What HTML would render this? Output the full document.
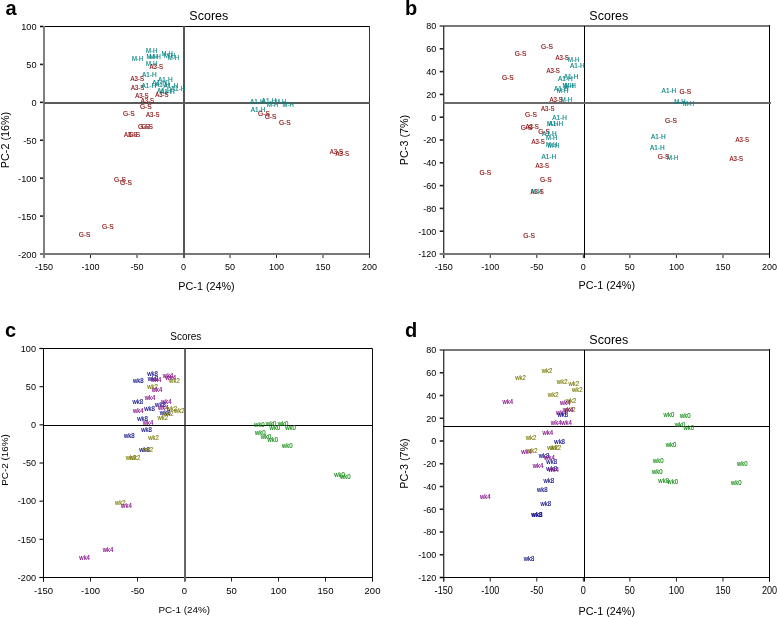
<!DOCTYPE html>
<html><head><meta charset="utf-8"><title>Scores</title>
<style>
html,body{margin:0;padding:0;background:#fff;width:777px;height:617px;overflow:hidden;}
svg{display:block;font-family:"Liberation Sans", sans-serif;will-change:transform;}
</style></head><body>
<svg width="777" height="617" viewBox="0 0 777 617">
<rect x="0" y="0" width="777" height="617" fill="#fff"/>
<line x1="40" y1="254.0" x2="44" y2="254.0" stroke="#222" stroke-width="1.6"/>
<text transform="matrix(1 0 0 1.08 36.50 257.70)" font-size="9.2" text-anchor="end" fill="#000" font-weight="normal">-200</text>
<line x1="40" y1="216.08333333333334" x2="44" y2="216.08333333333334" stroke="#222" stroke-width="1.6"/>
<text transform="matrix(1 0 0 1.08 36.50 219.78)" font-size="9.2" text-anchor="end" fill="#000" font-weight="normal">-150</text>
<line x1="40" y1="178.16666666666666" x2="44" y2="178.16666666666666" stroke="#222" stroke-width="1.6"/>
<text transform="matrix(1 0 0 1.08 36.50 181.87)" font-size="9.2" text-anchor="end" fill="#000" font-weight="normal">-100</text>
<line x1="40" y1="140.25" x2="44" y2="140.25" stroke="#222" stroke-width="1.6"/>
<text transform="matrix(1 0 0 1.08 36.50 143.95)" font-size="9.2" text-anchor="end" fill="#000" font-weight="normal">-50</text>
<line x1="40" y1="102.33333333333333" x2="44" y2="102.33333333333333" stroke="#222" stroke-width="1.6"/>
<text transform="matrix(1 0 0 1.08 36.50 106.03)" font-size="9.2" text-anchor="end" fill="#000" font-weight="normal">0</text>
<line x1="40" y1="64.41666666666666" x2="44" y2="64.41666666666666" stroke="#222" stroke-width="1.6"/>
<text transform="matrix(1 0 0 1.08 36.50 68.12)" font-size="9.2" text-anchor="end" fill="#000" font-weight="normal">50</text>
<line x1="40" y1="26.5" x2="44" y2="26.5" stroke="#222" stroke-width="1.6"/>
<text transform="matrix(1 0 0 1.08 36.50 30.20)" font-size="9.2" text-anchor="end" fill="#000" font-weight="normal">100</text>
<line x1="44.0" y1="254" x2="44.0" y2="258" stroke="#222" stroke-width="1"/>
<text x="44.00" y="269.80" font-size="9" text-anchor="middle" fill="#000" font-weight="normal">-150</text>
<line x1="90.5" y1="254" x2="90.5" y2="258" stroke="#222" stroke-width="1"/>
<text x="90.50" y="269.80" font-size="9" text-anchor="middle" fill="#000" font-weight="normal">-100</text>
<line x1="137.0" y1="254" x2="137.0" y2="258" stroke="#222" stroke-width="1"/>
<text x="137.00" y="269.80" font-size="9" text-anchor="middle" fill="#000" font-weight="normal">-50</text>
<line x1="183.5" y1="254" x2="183.5" y2="258" stroke="#222" stroke-width="1"/>
<text x="183.50" y="269.80" font-size="9" text-anchor="middle" fill="#000" font-weight="normal">0</text>
<line x1="230.0" y1="254" x2="230.0" y2="258" stroke="#222" stroke-width="1"/>
<text x="230.00" y="269.80" font-size="9" text-anchor="middle" fill="#000" font-weight="normal">50</text>
<line x1="276.5" y1="254" x2="276.5" y2="258" stroke="#222" stroke-width="1"/>
<text x="276.50" y="269.80" font-size="9" text-anchor="middle" fill="#000" font-weight="normal">100</text>
<line x1="323.0" y1="254" x2="323.0" y2="258" stroke="#222" stroke-width="1"/>
<text x="323.00" y="269.80" font-size="9" text-anchor="middle" fill="#000" font-weight="normal">150</text>
<line x1="369.5" y1="254" x2="369.5" y2="258" stroke="#222" stroke-width="1"/>
<text x="369.50" y="269.80" font-size="9" text-anchor="middle" fill="#000" font-weight="normal">200</text>
<line x1="40" y1="26.5" x2="369.5" y2="26.5" stroke="#000" stroke-width="1"/>
<line x1="44" y1="26" x2="44" y2="258" stroke="#808080" stroke-width="2"/>
<line x1="40" y1="254" x2="370" y2="254" stroke="#777" stroke-width="2"/>
<line x1="369.5" y1="26" x2="369.5" y2="258" stroke="#333" stroke-width="1"/>
<line x1="184" y1="26" x2="184" y2="258" stroke="#555" stroke-width="2"/>
<line x1="44" y1="103" x2="370" y2="103" stroke="#5a5a5a" stroke-width="2"/>
<text transform="matrix(0.88 0 0 1 137.75 60.93)" font-size="6.8" fill="#088585" stroke="#088585" stroke-width="0.15" text-anchor="middle">M-H</text>
<text transform="matrix(0.88 0 0 1 151.65 53.43)" font-size="6.8" fill="#088585" stroke="#088585" stroke-width="0.15" text-anchor="middle">M-H</text>
<text transform="matrix(0.88 0 0 1 152.25 58.63)" font-size="6.8" fill="#088585" stroke="#088585" stroke-width="0.15" text-anchor="middle">M-H</text>
<text transform="matrix(0.88 0 0 1 155.15 59.13)" font-size="6.8" fill="#088585" stroke="#088585" stroke-width="0.15" text-anchor="middle">M-H</text>
<text transform="matrix(0.88 0 0 1 167.15 56.03)" font-size="6.8" fill="#088585" stroke="#088585" stroke-width="0.15" text-anchor="middle">M-H</text>
<text transform="matrix(0.88 0 0 1 169.65 57.63)" font-size="6.8" fill="#088585" stroke="#088585" stroke-width="0.15" text-anchor="middle">M-H</text>
<text transform="matrix(0.88 0 0 1 173.35 60.13)" font-size="6.8" fill="#088585" stroke="#088585" stroke-width="0.15" text-anchor="middle">M-H</text>
<text transform="matrix(0.88 0 0 1 151.65 66.13)" font-size="6.8" fill="#088585" stroke="#088585" stroke-width="0.15" text-anchor="middle">M-H</text>
<text transform="matrix(0.88 0 0 1 156.25 69.23)" font-size="6.8" fill="#840808" stroke="#840808" stroke-width="0.15" text-anchor="middle">A3-S</text>
<text transform="matrix(0.947 0 0 1 149.33 77.33)" font-size="6.8" fill="#088585" stroke="#088585" stroke-width="0.15" text-anchor="middle">A1-H</text>
<text transform="matrix(0.88 0 0 1 137.25 81.23)" font-size="6.8" fill="#840808" stroke="#840808" stroke-width="0.15" text-anchor="middle">A3-S</text>
<text transform="matrix(0.947 0 0 1 165.23 81.63)" font-size="6.8" fill="#088585" stroke="#088585" stroke-width="0.15" text-anchor="middle">A1-H</text>
<text transform="matrix(0.947 0 0 1 159.53 84.83)" font-size="6.8" fill="#088585" stroke="#088585" stroke-width="0.15" text-anchor="middle">A1-H</text>
<text transform="matrix(0.947 0 0 1 162.33 87.13)" font-size="6.8" fill="#088585" stroke="#088585" stroke-width="0.15" text-anchor="middle">A1-H</text>
<text transform="matrix(0.88 0 0 1 137.65 90.03)" font-size="6.8" fill="#840808" stroke="#840808" stroke-width="0.15" text-anchor="middle">A3-S</text>
<text transform="matrix(0.947 0 0 1 148.73 88.43)" font-size="6.8" fill="#088585" stroke="#088585" stroke-width="0.15" text-anchor="middle">A1-H</text>
<text transform="matrix(0.947 0 0 1 170.83 87.93)" font-size="6.8" fill="#088585" stroke="#088585" stroke-width="0.15" text-anchor="middle">A1-H</text>
<text transform="matrix(0.947 0 0 1 178.13 90.53)" font-size="6.8" fill="#088585" stroke="#088585" stroke-width="0.15" text-anchor="middle">A1-H</text>
<text transform="matrix(0.947 0 0 1 164.23 92.63)" font-size="6.8" fill="#088585" stroke="#088585" stroke-width="0.15" text-anchor="middle">A1-H</text>
<text transform="matrix(0.947 0 0 1 167.33 93.63)" font-size="6.8" fill="#088585" stroke="#088585" stroke-width="0.15" text-anchor="middle">A1-H</text>
<text transform="matrix(0.88 0 0 1 141.85 98.23)" font-size="6.8" fill="#840808" stroke="#840808" stroke-width="0.15" text-anchor="middle">A3-S</text>
<text transform="matrix(0.88 0 0 1 161.95 97.23)" font-size="6.8" fill="#840808" stroke="#840808" stroke-width="0.15" text-anchor="middle">A3-S</text>
<text transform="matrix(0.88 0 0 1 147.35 102.73)" font-size="6.8" fill="#840808" stroke="#840808" stroke-width="0.15" text-anchor="middle">A3-S</text>
<text transform="matrix(0.967 0 0 1 145.85 109.13)" font-size="6.8" fill="#840808" stroke="#840808" stroke-width="0.15" text-anchor="middle">G-S</text>
<text transform="matrix(0.967 0 0 1 128.75 115.53)" font-size="6.8" fill="#840808" stroke="#840808" stroke-width="0.15" text-anchor="middle">G-S</text>
<text transform="matrix(0.88 0 0 1 152.75 117.03)" font-size="6.8" fill="#840808" stroke="#840808" stroke-width="0.15" text-anchor="middle">A3-S</text>
<text transform="matrix(0.967 0 0 1 143.75 128.93)" font-size="6.8" fill="#840808" stroke="#840808" stroke-width="0.15" text-anchor="middle">G-S</text>
<text transform="matrix(0.967 0 0 1 147.05 128.93)" font-size="6.8" fill="#840808" stroke="#840808" stroke-width="0.15" text-anchor="middle">G-S</text>
<text transform="matrix(0.88 0 0 1 130.55 136.93)" font-size="6.8" fill="#840808" stroke="#840808" stroke-width="0.15" text-anchor="middle">A3-S</text>
<text transform="matrix(0.967 0 0 1 134.35 137.43)" font-size="6.8" fill="#840808" stroke="#840808" stroke-width="0.15" text-anchor="middle">G-S</text>
<text transform="matrix(0.947 0 0 1 257.33 104.23)" font-size="6.8" fill="#088585" stroke="#088585" stroke-width="0.15" text-anchor="middle">A1-H</text>
<text transform="matrix(0.947 0 0 1 268.93 103.03)" font-size="6.8" fill="#088585" stroke="#088585" stroke-width="0.15" text-anchor="middle">A1-H</text>
<text transform="matrix(0.88 0 0 1 272.65 106.93)" font-size="6.8" fill="#088585" stroke="#088585" stroke-width="0.15" text-anchor="middle">M-H</text>
<text transform="matrix(0.88 0 0 1 280.65 103.63)" font-size="6.8" fill="#088585" stroke="#088585" stroke-width="0.15" text-anchor="middle">M-H</text>
<text transform="matrix(0.88 0 0 1 288.15 106.93)" font-size="6.8" fill="#088585" stroke="#088585" stroke-width="0.15" text-anchor="middle">M-H</text>
<text transform="matrix(0.947 0 0 1 258.13 112.33)" font-size="6.8" fill="#088585" stroke="#088585" stroke-width="0.15" text-anchor="middle">A1-H</text>
<text transform="matrix(0.967 0 0 1 263.95 116.23)" font-size="6.8" fill="#840808" stroke="#840808" stroke-width="0.15" text-anchor="middle">G-S</text>
<text transform="matrix(0.967 0 0 1 270.55 118.93)" font-size="6.8" fill="#840808" stroke="#840808" stroke-width="0.15" text-anchor="middle">G-S</text>
<text transform="matrix(0.967 0 0 1 284.85 125.03)" font-size="6.8" fill="#840808" stroke="#840808" stroke-width="0.15" text-anchor="middle">G-S</text>
<text transform="matrix(0.88 0 0 1 336.45 154.23)" font-size="6.8" fill="#840808" stroke="#840808" stroke-width="0.15" text-anchor="middle">A3-S</text>
<text transform="matrix(0.88 0 0 1 342.25 155.83)" font-size="6.8" fill="#840808" stroke="#840808" stroke-width="0.15" text-anchor="middle">A3-S</text>
<text transform="matrix(0.967 0 0 1 119.95 182.13)" font-size="6.8" fill="#840808" stroke="#840808" stroke-width="0.15" text-anchor="middle">G-S</text>
<text transform="matrix(0.967 0 0 1 125.95 185.43)" font-size="6.8" fill="#840808" stroke="#840808" stroke-width="0.15" text-anchor="middle">G-S</text>
<text transform="matrix(0.967 0 0 1 107.75 229.13)" font-size="6.8" fill="#840808" stroke="#840808" stroke-width="0.15" text-anchor="middle">G-S</text>
<text transform="matrix(0.967 0 0 1 84.65 237.03)" font-size="6.8" fill="#840808" stroke="#840808" stroke-width="0.15" text-anchor="middle">G-S</text>
<text x="5.50" y="14.70" font-size="20" text-anchor="start" fill="#000" font-weight="bold">a</text>
<text x="208.80" y="19.80" font-size="12.5" text-anchor="middle" fill="#000" font-weight="normal">Scores</text>
<text x="206.50" y="289.80" font-size="10.8" text-anchor="middle" fill="#000" font-weight="normal">PC-1 (24%)</text>
<text x="8.50" y="140.00" font-size="10.8" text-anchor="middle" fill="#000" font-weight="normal" transform="rotate(-90 8.5 140)">PC-2 (16%)</text>
<line x1="439.7" y1="254.0" x2="443.7" y2="254.0" stroke="#222" stroke-width="1.6"/>
<text x="436.20" y="257.30" font-size="9" text-anchor="end" fill="#000" font-weight="normal">-120</text>
<line x1="439.7" y1="231.2" x2="443.7" y2="231.2" stroke="#222" stroke-width="1.6"/>
<text x="436.20" y="234.50" font-size="9" text-anchor="end" fill="#000" font-weight="normal">-100</text>
<line x1="439.7" y1="208.4" x2="443.7" y2="208.4" stroke="#222" stroke-width="1.6"/>
<text x="436.20" y="211.70" font-size="9" text-anchor="end" fill="#000" font-weight="normal">-80</text>
<line x1="439.7" y1="185.6" x2="443.7" y2="185.6" stroke="#222" stroke-width="1.6"/>
<text x="436.20" y="188.90" font-size="9" text-anchor="end" fill="#000" font-weight="normal">-60</text>
<line x1="439.7" y1="162.8" x2="443.7" y2="162.8" stroke="#222" stroke-width="1.6"/>
<text x="436.20" y="166.10" font-size="9" text-anchor="end" fill="#000" font-weight="normal">-40</text>
<line x1="439.7" y1="140.0" x2="443.7" y2="140.0" stroke="#222" stroke-width="1.6"/>
<text x="436.20" y="143.30" font-size="9" text-anchor="end" fill="#000" font-weight="normal">-20</text>
<line x1="439.7" y1="117.2" x2="443.7" y2="117.2" stroke="#222" stroke-width="1.6"/>
<text x="436.20" y="120.50" font-size="9" text-anchor="end" fill="#000" font-weight="normal">0</text>
<line x1="439.7" y1="94.4" x2="443.7" y2="94.4" stroke="#222" stroke-width="1.6"/>
<text x="436.20" y="97.70" font-size="9" text-anchor="end" fill="#000" font-weight="normal">20</text>
<line x1="439.7" y1="71.6" x2="443.7" y2="71.6" stroke="#222" stroke-width="1.6"/>
<text x="436.20" y="74.90" font-size="9" text-anchor="end" fill="#000" font-weight="normal">40</text>
<line x1="439.7" y1="48.8" x2="443.7" y2="48.8" stroke="#222" stroke-width="1.6"/>
<text x="436.20" y="52.10" font-size="9" text-anchor="end" fill="#000" font-weight="normal">60</text>
<line x1="439.7" y1="26.0" x2="443.7" y2="26.0" stroke="#222" stroke-width="1.6"/>
<text x="436.20" y="29.30" font-size="9" text-anchor="end" fill="#000" font-weight="normal">80</text>
<line x1="443.7" y1="254" x2="443.7" y2="258" stroke="#222" stroke-width="1"/>
<text x="443.70" y="269.80" font-size="9" text-anchor="middle" fill="#000" font-weight="normal">-150</text>
<line x1="490.24285714285713" y1="254" x2="490.24285714285713" y2="258" stroke="#222" stroke-width="1"/>
<text x="490.24" y="269.80" font-size="9" text-anchor="middle" fill="#000" font-weight="normal">-100</text>
<line x1="536.7857142857142" y1="254" x2="536.7857142857142" y2="258" stroke="#222" stroke-width="1"/>
<text x="536.79" y="269.80" font-size="9" text-anchor="middle" fill="#000" font-weight="normal">-50</text>
<line x1="583.3285714285714" y1="254" x2="583.3285714285714" y2="258" stroke="#222" stroke-width="1"/>
<text x="583.33" y="269.80" font-size="9" text-anchor="middle" fill="#000" font-weight="normal">0</text>
<line x1="629.8714285714286" y1="254" x2="629.8714285714286" y2="258" stroke="#222" stroke-width="1"/>
<text x="629.87" y="269.80" font-size="9" text-anchor="middle" fill="#000" font-weight="normal">50</text>
<line x1="676.4142857142857" y1="254" x2="676.4142857142857" y2="258" stroke="#222" stroke-width="1"/>
<text x="676.41" y="269.80" font-size="9" text-anchor="middle" fill="#000" font-weight="normal">100</text>
<line x1="722.9571428571428" y1="254" x2="722.9571428571428" y2="258" stroke="#222" stroke-width="1"/>
<text x="722.96" y="269.80" font-size="9" text-anchor="middle" fill="#000" font-weight="normal">150</text>
<line x1="769.5" y1="254" x2="769.5" y2="258" stroke="#222" stroke-width="1"/>
<text x="769.50" y="269.80" font-size="9" text-anchor="middle" fill="#000" font-weight="normal">200</text>
<line x1="440" y1="26" x2="769.5" y2="26" stroke="#777" stroke-width="2"/>
<line x1="443.7" y1="26" x2="443.7" y2="258" stroke="#333" stroke-width="1.3"/>
<line x1="440" y1="254" x2="770" y2="254" stroke="#777" stroke-width="2"/>
<line x1="769.5" y1="25" x2="769.5" y2="258" stroke="#000" stroke-width="1"/>
<line x1="584.5" y1="26" x2="584.5" y2="258" stroke="#000" stroke-width="1"/>
<line x1="443.5" y1="103" x2="771" y2="103" stroke="#6a6a6a" stroke-width="2"/>
<text transform="matrix(0.967 0 0 1 546.95 49.03)" font-size="6.8" fill="#840808" stroke="#840808" stroke-width="0.15" text-anchor="middle">G-S</text>
<text transform="matrix(0.967 0 0 1 520.55 56.43)" font-size="6.8" fill="#840808" stroke="#840808" stroke-width="0.15" text-anchor="middle">G-S</text>
<text transform="matrix(0.88 0 0 1 562.15 59.93)" font-size="6.8" fill="#840808" stroke="#840808" stroke-width="0.15" text-anchor="middle">A3-S</text>
<text transform="matrix(0.88 0 0 1 573.75 62.23)" font-size="6.8" fill="#088585" stroke="#088585" stroke-width="0.15" text-anchor="middle">M-H</text>
<text transform="matrix(0.947 0 0 1 577.33 67.83)" font-size="6.8" fill="#088585" stroke="#088585" stroke-width="0.15" text-anchor="middle">A1-H</text>
<text transform="matrix(0.88 0 0 1 553.15 72.93)" font-size="6.8" fill="#840808" stroke="#840808" stroke-width="0.15" text-anchor="middle">A3-S</text>
<text transform="matrix(0.967 0 0 1 507.75 79.93)" font-size="6.8" fill="#840808" stroke="#840808" stroke-width="0.15" text-anchor="middle">G-S</text>
<text transform="matrix(0.947 0 0 1 571.03 79.23)" font-size="6.8" fill="#088585" stroke="#088585" stroke-width="0.15" text-anchor="middle">A1-H</text>
<text transform="matrix(0.947 0 0 1 565.33 81.43)" font-size="6.8" fill="#088585" stroke="#088585" stroke-width="0.15" text-anchor="middle">A1-H</text>
<text transform="matrix(0.88 0 0 1 570.15 87.93)" font-size="6.8" fill="#088585" stroke="#088585" stroke-width="0.15" text-anchor="middle">M-H</text>
<text transform="matrix(0.88 0 0 1 568.05 87.63)" font-size="6.8" fill="#088585" stroke="#088585" stroke-width="0.15" text-anchor="middle">M-H</text>
<text transform="matrix(0.947 0 0 1 561.33 91.43)" font-size="6.8" fill="#088585" stroke="#088585" stroke-width="0.15" text-anchor="middle">A1-H</text>
<text transform="matrix(0.88 0 0 1 562.75 92.93)" font-size="6.8" fill="#088585" stroke="#088585" stroke-width="0.15" text-anchor="middle">M-H</text>
<text transform="matrix(0.88 0 0 1 556.15 101.63)" font-size="6.8" fill="#840808" stroke="#840808" stroke-width="0.15" text-anchor="middle">A3-S</text>
<text transform="matrix(0.88 0 0 1 566.45 101.53)" font-size="6.8" fill="#088585" stroke="#088585" stroke-width="0.15" text-anchor="middle">M-H</text>
<text transform="matrix(0.88 0 0 1 547.75 111.03)" font-size="6.8" fill="#840808" stroke="#840808" stroke-width="0.15" text-anchor="middle">A3-S</text>
<text transform="matrix(0.967 0 0 1 530.95 116.53)" font-size="6.8" fill="#840808" stroke="#840808" stroke-width="0.15" text-anchor="middle">G-S</text>
<text transform="matrix(0.947 0 0 1 559.63 120.43)" font-size="6.8" fill="#088585" stroke="#088585" stroke-width="0.15" text-anchor="middle">A1-H</text>
<text transform="matrix(0.88 0 0 1 552.55 125.73)" font-size="6.8" fill="#088585" stroke="#088585" stroke-width="0.15" text-anchor="middle">M-H</text>
<text transform="matrix(0.947 0 0 1 555.83 126.23)" font-size="6.8" fill="#088585" stroke="#088585" stroke-width="0.15" text-anchor="middle">A1-H</text>
<text transform="matrix(0.967 0 0 1 526.55 129.83)" font-size="6.8" fill="#840808" stroke="#840808" stroke-width="0.15" text-anchor="middle">G-S</text>
<text transform="matrix(0.88 0 0 1 532.15 129.13)" font-size="6.8" fill="#840808" stroke="#840808" stroke-width="0.15" text-anchor="middle">A3-S</text>
<text transform="matrix(0.967 0 0 1 544.05 134.03)" font-size="6.8" fill="#840808" stroke="#840808" stroke-width="0.15" text-anchor="middle">G-S</text>
<text transform="matrix(0.947 0 0 1 549.43 136.43)" font-size="6.8" fill="#088585" stroke="#088585" stroke-width="0.15" text-anchor="middle">A1-H</text>
<text transform="matrix(0.88 0 0 1 551.65 140.33)" font-size="6.8" fill="#088585" stroke="#088585" stroke-width="0.15" text-anchor="middle">M-H</text>
<text transform="matrix(0.88 0 0 1 538.05 144.03)" font-size="6.8" fill="#840808" stroke="#840808" stroke-width="0.15" text-anchor="middle">A3-S</text>
<text transform="matrix(0.88 0 0 1 551.65 146.93)" font-size="6.8" fill="#088585" stroke="#088585" stroke-width="0.15" text-anchor="middle">M-H</text>
<text transform="matrix(0.88 0 0 1 553.55 148.13)" font-size="6.8" fill="#088585" stroke="#088585" stroke-width="0.15" text-anchor="middle">M-H</text>
<text transform="matrix(0.947 0 0 1 548.83 159.03)" font-size="6.8" fill="#088585" stroke="#088585" stroke-width="0.15" text-anchor="middle">A1-H</text>
<text transform="matrix(0.88 0 0 1 542.25 167.93)" font-size="6.8" fill="#840808" stroke="#840808" stroke-width="0.15" text-anchor="middle">A3-S</text>
<text transform="matrix(0.967 0 0 1 485.35 175.23)" font-size="6.8" fill="#840808" stroke="#840808" stroke-width="0.15" text-anchor="middle">G-S</text>
<text transform="matrix(0.967 0 0 1 545.85 182.23)" font-size="6.8" fill="#840808" stroke="#840808" stroke-width="0.15" text-anchor="middle">G-S</text>
<text transform="matrix(0.88 0 0 1 537.15 193.83)" font-size="6.8" fill="#840808" stroke="#840808" stroke-width="0.15" text-anchor="middle">A3-S</text>
<text transform="matrix(0.88 0 0 1 536.65 193.83)" font-size="6.8" fill="#088585" stroke="#088585" stroke-width="0.15" text-anchor="middle">M-H</text>
<text transform="matrix(0.967 0 0 1 529.05 237.63)" font-size="6.8" fill="#840808" stroke="#840808" stroke-width="0.15" text-anchor="middle">G-S</text>
<text transform="matrix(0.947 0 0 1 668.93 93.43)" font-size="6.8" fill="#088585" stroke="#088585" stroke-width="0.15" text-anchor="middle">A1-H</text>
<text transform="matrix(0.967 0 0 1 685.25 93.83)" font-size="6.8" fill="#840808" stroke="#840808" stroke-width="0.15" text-anchor="middle">G-S</text>
<text transform="matrix(0.88 0 0 1 679.95 103.63)" font-size="6.8" fill="#088585" stroke="#088585" stroke-width="0.15" text-anchor="middle">M-H</text>
<text transform="matrix(0.88 0 0 1 688.75 106.03)" font-size="6.8" fill="#088585" stroke="#088585" stroke-width="0.15" text-anchor="middle">M-H</text>
<text transform="matrix(0.967 0 0 1 670.95 123.33)" font-size="6.8" fill="#840808" stroke="#840808" stroke-width="0.15" text-anchor="middle">G-S</text>
<text transform="matrix(0.947 0 0 1 658.33 139.03)" font-size="6.8" fill="#088585" stroke="#088585" stroke-width="0.15" text-anchor="middle">A1-H</text>
<text transform="matrix(0.947 0 0 1 657.23 150.33)" font-size="6.8" fill="#088585" stroke="#088585" stroke-width="0.15" text-anchor="middle">A1-H</text>
<text transform="matrix(0.967 0 0 1 663.65 159.03)" font-size="6.8" fill="#840808" stroke="#840808" stroke-width="0.15" text-anchor="middle">G-S</text>
<text transform="matrix(0.88 0 0 1 672.65 159.83)" font-size="6.8" fill="#088585" stroke="#088585" stroke-width="0.15" text-anchor="middle">M-H</text>
<text transform="matrix(0.88 0 0 1 742.25 142.03)" font-size="6.8" fill="#840808" stroke="#840808" stroke-width="0.15" text-anchor="middle">A3-S</text>
<text transform="matrix(0.88 0 0 1 736.25 160.83)" font-size="6.8" fill="#840808" stroke="#840808" stroke-width="0.15" text-anchor="middle">A3-S</text>
<text x="405.00" y="14.90" font-size="20" text-anchor="start" fill="#000" font-weight="bold">b</text>
<text x="608.80" y="19.80" font-size="12.5" text-anchor="middle" fill="#000" font-weight="normal">Scores</text>
<text x="606.80" y="289.10" font-size="10.8" text-anchor="middle" fill="#000" font-weight="normal">PC-1 (24%)</text>
<text x="407.70" y="140.00" font-size="10.8" text-anchor="middle" fill="#000" font-weight="normal" transform="rotate(-90 407.7 140)">PC-3 (7%)</text>
<line x1="39.5" y1="577.5" x2="43.5" y2="577.5" stroke="#222" stroke-width="1.2"/>
<text transform="matrix(1 0 0 1.08 36.00 580.80)" font-size="9.1" text-anchor="end" fill="#000" font-weight="normal">-200</text>
<line x1="39.5" y1="539.3333333333334" x2="43.5" y2="539.3333333333334" stroke="#222" stroke-width="1.2"/>
<text transform="matrix(1 0 0 1.08 36.00 542.63)" font-size="9.1" text-anchor="end" fill="#000" font-weight="normal">-150</text>
<line x1="39.5" y1="501.16666666666663" x2="43.5" y2="501.16666666666663" stroke="#222" stroke-width="1.2"/>
<text transform="matrix(1 0 0 1.08 36.00 504.47)" font-size="9.1" text-anchor="end" fill="#000" font-weight="normal">-100</text>
<line x1="39.5" y1="463.0" x2="43.5" y2="463.0" stroke="#222" stroke-width="1.2"/>
<text transform="matrix(1 0 0 1.08 36.00 466.30)" font-size="9.1" text-anchor="end" fill="#000" font-weight="normal">-50</text>
<line x1="39.5" y1="424.8333333333333" x2="43.5" y2="424.8333333333333" stroke="#222" stroke-width="1.2"/>
<text transform="matrix(1 0 0 1.08 36.00 428.13)" font-size="9.1" text-anchor="end" fill="#000" font-weight="normal">0</text>
<line x1="39.5" y1="386.6666666666667" x2="43.5" y2="386.6666666666667" stroke="#222" stroke-width="1.2"/>
<text transform="matrix(1 0 0 1.08 36.00 389.97)" font-size="9.1" text-anchor="end" fill="#000" font-weight="normal">50</text>
<line x1="39.5" y1="348.5" x2="43.5" y2="348.5" stroke="#222" stroke-width="1.2"/>
<text transform="matrix(1 0 0 1.08 36.00 351.80)" font-size="9.1" text-anchor="end" fill="#000" font-weight="normal">100</text>
<line x1="43.5" y1="577.5" x2="43.5" y2="581.5" stroke="#222" stroke-width="1"/>
<text transform="matrix(1 0 0 1.05 43.50 594.00)" font-size="9.5" text-anchor="middle" fill="#000" font-weight="normal">-150</text>
<line x1="90.5" y1="577.5" x2="90.5" y2="581.5" stroke="#222" stroke-width="1"/>
<text transform="matrix(1 0 0 1.05 90.50 594.00)" font-size="9.5" text-anchor="middle" fill="#000" font-weight="normal">-100</text>
<line x1="137.5" y1="577.5" x2="137.5" y2="581.5" stroke="#222" stroke-width="1"/>
<text transform="matrix(1 0 0 1.05 137.50 594.00)" font-size="9.5" text-anchor="middle" fill="#000" font-weight="normal">-50</text>
<line x1="184.5" y1="577.5" x2="184.5" y2="581.5" stroke="#222" stroke-width="1"/>
<text transform="matrix(1 0 0 1.05 184.50 594.00)" font-size="9.5" text-anchor="middle" fill="#000" font-weight="normal">0</text>
<line x1="231.5" y1="577.5" x2="231.5" y2="581.5" stroke="#222" stroke-width="1"/>
<text transform="matrix(1 0 0 1.05 231.50 594.00)" font-size="9.5" text-anchor="middle" fill="#000" font-weight="normal">50</text>
<line x1="278.5" y1="577.5" x2="278.5" y2="581.5" stroke="#222" stroke-width="1"/>
<text transform="matrix(1 0 0 1.05 278.50 594.00)" font-size="9.5" text-anchor="middle" fill="#000" font-weight="normal">100</text>
<line x1="325.5" y1="577.5" x2="325.5" y2="581.5" stroke="#222" stroke-width="1"/>
<text transform="matrix(1 0 0 1.05 325.50 594.00)" font-size="9.5" text-anchor="middle" fill="#000" font-weight="normal">150</text>
<line x1="372.5" y1="577.5" x2="372.5" y2="581.5" stroke="#222" stroke-width="1"/>
<text transform="matrix(1 0 0 1.05 372.50 594.00)" font-size="9.5" text-anchor="middle" fill="#000" font-weight="normal">200</text>
<line x1="39.5" y1="348.5" x2="372.5" y2="348.5" stroke="#000" stroke-width="1"/>
<line x1="43.5" y1="348.5" x2="43.5" y2="581.5" stroke="#000" stroke-width="1"/>
<line x1="39.5" y1="577.5" x2="373" y2="577.5" stroke="#000" stroke-width="1"/>
<line x1="372.5" y1="348.5" x2="372.5" y2="581.5" stroke="#111" stroke-width="1"/>
<line x1="185" y1="348.5" x2="185" y2="581.5" stroke="#666" stroke-width="2"/>
<line x1="43.5" y1="425.5" x2="372.5" y2="425.5" stroke="#000" stroke-width="1"/>
<text transform="matrix(0.88 0 0 1 138.37 383.39)" font-size="6.8" fill="#080884" stroke="#080884" stroke-width="0.15" text-anchor="middle">wk8</text>
<text transform="matrix(0.88 0 0 1 152.44 375.86)" font-size="6.8" fill="#080884" stroke="#080884" stroke-width="0.15" text-anchor="middle">wk8</text>
<text transform="matrix(0.88 0 0 1 153.05 381.08)" font-size="6.8" fill="#080884" stroke="#080884" stroke-width="0.15" text-anchor="middle">wk8</text>
<text transform="matrix(0.88 0 0 1 155.98 381.58)" font-size="6.8" fill="#820882" stroke="#820882" stroke-width="0.15" text-anchor="middle">wk4</text>
<text transform="matrix(0.88 0 0 1 168.13 378.47)" font-size="6.8" fill="#820882" stroke="#820882" stroke-width="0.15" text-anchor="middle">wk4</text>
<text transform="matrix(0.88 0 0 1 170.66 380.08)" font-size="6.8" fill="#820882" stroke="#820882" stroke-width="0.15" text-anchor="middle">wk4</text>
<text transform="matrix(0.88 0 0 1 174.40 382.59)" font-size="6.8" fill="#7a7a06" stroke="#7a7a06" stroke-width="0.15" text-anchor="middle">wk2</text>
<text transform="matrix(0.88 0 0 1 152.44 388.62)" font-size="6.8" fill="#7a7a06" stroke="#7a7a06" stroke-width="0.15" text-anchor="middle">wk2</text>
<text transform="matrix(0.88 0 0 1 157.10 391.73)" font-size="6.8" fill="#820882" stroke="#820882" stroke-width="0.15" text-anchor="middle">wk4</text>
<text transform="matrix(0.88 0 0 1 150.10 399.87)" font-size="6.8" fill="#820882" stroke="#820882" stroke-width="0.15" text-anchor="middle">wk4</text>
<text transform="matrix(0.88 0 0 1 137.87 403.79)" font-size="6.8" fill="#080884" stroke="#080884" stroke-width="0.15" text-anchor="middle">wk8</text>
<text transform="matrix(0.88 0 0 1 166.19 404.19)" font-size="6.8" fill="#820882" stroke="#820882" stroke-width="0.15" text-anchor="middle">wk4</text>
<text transform="matrix(0.88 0 0 1 160.42 407.41)" font-size="6.8" fill="#080884" stroke="#080884" stroke-width="0.15" text-anchor="middle">wk8</text>
<text transform="matrix(0.88 0 0 1 163.25 409.72)" font-size="6.8" fill="#820882" stroke="#820882" stroke-width="0.15" text-anchor="middle">wk4</text>
<text transform="matrix(0.88 0 0 1 138.28 412.63)" font-size="6.8" fill="#820882" stroke="#820882" stroke-width="0.15" text-anchor="middle">wk4</text>
<text transform="matrix(0.88 0 0 1 149.49 411.02)" font-size="6.8" fill="#080884" stroke="#080884" stroke-width="0.15" text-anchor="middle">wk8</text>
<text transform="matrix(0.88 0 0 1 171.86 410.52)" font-size="6.8" fill="#7a7a06" stroke="#7a7a06" stroke-width="0.15" text-anchor="middle">wk2</text>
<text transform="matrix(0.88 0 0 1 179.24 413.13)" font-size="6.8" fill="#7a7a06" stroke="#7a7a06" stroke-width="0.15" text-anchor="middle">wk2</text>
<text transform="matrix(0.88 0 0 1 165.18 415.24)" font-size="6.8" fill="#080884" stroke="#080884" stroke-width="0.15" text-anchor="middle">wk8</text>
<text transform="matrix(0.88 0 0 1 168.31 416.25)" font-size="6.8" fill="#7a7a06" stroke="#7a7a06" stroke-width="0.15" text-anchor="middle">wk2</text>
<text transform="matrix(0.88 0 0 1 142.53 420.87)" font-size="6.8" fill="#080884" stroke="#080884" stroke-width="0.15" text-anchor="middle">wk8</text>
<text transform="matrix(0.88 0 0 1 162.87 419.87)" font-size="6.8" fill="#7a7a06" stroke="#7a7a06" stroke-width="0.15" text-anchor="middle">wk2</text>
<text transform="matrix(0.88 0 0 1 148.09 425.39)" font-size="6.8" fill="#820882" stroke="#820882" stroke-width="0.15" text-anchor="middle">wk4</text>
<text transform="matrix(0.88 0 0 1 146.57 431.82)" font-size="6.8" fill="#080884" stroke="#080884" stroke-width="0.15" text-anchor="middle">wk8</text>
<text transform="matrix(0.88 0 0 1 129.26 438.25)" font-size="6.8" fill="#080884" stroke="#080884" stroke-width="0.15" text-anchor="middle">wk8</text>
<text transform="matrix(0.88 0 0 1 153.56 439.76)" font-size="6.8" fill="#7a7a06" stroke="#7a7a06" stroke-width="0.15" text-anchor="middle">wk2</text>
<text transform="matrix(0.88 0 0 1 144.44 451.72)" font-size="6.8" fill="#080884" stroke="#080884" stroke-width="0.15" text-anchor="middle">wk8</text>
<text transform="matrix(0.88 0 0 1 147.78 451.72)" font-size="6.8" fill="#7a7a06" stroke="#7a7a06" stroke-width="0.15" text-anchor="middle">wk2</text>
<text transform="matrix(0.88 0 0 1 131.09 459.76)" font-size="6.8" fill="#7a7a06" stroke="#7a7a06" stroke-width="0.15" text-anchor="middle">wk2</text>
<text transform="matrix(0.88 0 0 1 134.93 460.26)" font-size="6.8" fill="#7a7a06" stroke="#7a7a06" stroke-width="0.15" text-anchor="middle">wk2</text>
<text transform="matrix(0.88 0 0 1 259.39 426.90)" font-size="6.8" fill="#108c10" stroke="#108c10" stroke-width="0.15" text-anchor="middle">wk0</text>
<text transform="matrix(0.88 0 0 1 271.13 425.69)" font-size="6.8" fill="#108c10" stroke="#108c10" stroke-width="0.15" text-anchor="middle">wk0</text>
<text transform="matrix(0.88 0 0 1 274.89 429.61)" font-size="6.8" fill="#108c10" stroke="#108c10" stroke-width="0.15" text-anchor="middle">wk0</text>
<text transform="matrix(0.88 0 0 1 282.99 426.30)" font-size="6.8" fill="#108c10" stroke="#108c10" stroke-width="0.15" text-anchor="middle">wk0</text>
<text transform="matrix(0.88 0 0 1 290.58 429.61)" font-size="6.8" fill="#108c10" stroke="#108c10" stroke-width="0.15" text-anchor="middle">wk0</text>
<text transform="matrix(0.88 0 0 1 260.20 435.04)" font-size="6.8" fill="#108c10" stroke="#108c10" stroke-width="0.15" text-anchor="middle">wk0</text>
<text transform="matrix(0.88 0 0 1 266.09 438.96)" font-size="6.8" fill="#108c10" stroke="#108c10" stroke-width="0.15" text-anchor="middle">wk0</text>
<text transform="matrix(0.88 0 0 1 272.76 441.67)" font-size="6.8" fill="#108c10" stroke="#108c10" stroke-width="0.15" text-anchor="middle">wk0</text>
<text transform="matrix(0.88 0 0 1 287.24 447.80)" font-size="6.8" fill="#108c10" stroke="#108c10" stroke-width="0.15" text-anchor="middle">wk0</text>
<text transform="matrix(0.88 0 0 1 339.46 477.14)" font-size="6.8" fill="#108c10" stroke="#108c10" stroke-width="0.15" text-anchor="middle">wk0</text>
<text transform="matrix(0.88 0 0 1 345.33 478.75)" font-size="6.8" fill="#108c10" stroke="#108c10" stroke-width="0.15" text-anchor="middle">wk0</text>
<text transform="matrix(0.88 0 0 1 120.36 505.18)" font-size="6.8" fill="#7a7a06" stroke="#7a7a06" stroke-width="0.15" text-anchor="middle">wk2</text>
<text transform="matrix(0.88 0 0 1 126.43 508.49)" font-size="6.8" fill="#820882" stroke="#820882" stroke-width="0.15" text-anchor="middle">wk4</text>
<text transform="matrix(0.88 0 0 1 108.01 552.40)" font-size="6.8" fill="#820882" stroke="#820882" stroke-width="0.15" text-anchor="middle">wk4</text>
<text transform="matrix(0.88 0 0 1 84.63 560.34)" font-size="6.8" fill="#820882" stroke="#820882" stroke-width="0.15" text-anchor="middle">wk4</text>
<text x="5.00" y="337.00" font-size="20" text-anchor="start" fill="#000" font-weight="bold">c</text>
<text x="185.80" y="339.90" font-size="10" text-anchor="middle" fill="#000" font-weight="normal">Scores</text>
<text x="184.20" y="612.50" font-size="9.9" text-anchor="middle" fill="#000" font-weight="normal">PC-1 (24%)</text>
<text x="8.00" y="460.00" font-size="9.9" text-anchor="middle" fill="#000" font-weight="normal" transform="rotate(-90 8 460)">PC-2 (16%)</text>
<line x1="439.7" y1="577.5" x2="443.7" y2="577.5" stroke="#222" stroke-width="1.6"/>
<text x="436.20" y="580.80" font-size="9" text-anchor="end" fill="#000" font-weight="normal">-120</text>
<line x1="439.7" y1="554.75" x2="443.7" y2="554.75" stroke="#222" stroke-width="1.6"/>
<text x="436.20" y="558.05" font-size="9" text-anchor="end" fill="#000" font-weight="normal">-100</text>
<line x1="439.7" y1="532.0" x2="443.7" y2="532.0" stroke="#222" stroke-width="1.6"/>
<text x="436.20" y="535.30" font-size="9" text-anchor="end" fill="#000" font-weight="normal">-80</text>
<line x1="439.7" y1="509.25" x2="443.7" y2="509.25" stroke="#222" stroke-width="1.6"/>
<text x="436.20" y="512.55" font-size="9" text-anchor="end" fill="#000" font-weight="normal">-60</text>
<line x1="439.7" y1="486.5" x2="443.7" y2="486.5" stroke="#222" stroke-width="1.6"/>
<text x="436.20" y="489.80" font-size="9" text-anchor="end" fill="#000" font-weight="normal">-40</text>
<line x1="439.7" y1="463.75" x2="443.7" y2="463.75" stroke="#222" stroke-width="1.6"/>
<text x="436.20" y="467.05" font-size="9" text-anchor="end" fill="#000" font-weight="normal">-20</text>
<line x1="439.7" y1="441.0" x2="443.7" y2="441.0" stroke="#222" stroke-width="1.6"/>
<text x="436.20" y="444.30" font-size="9" text-anchor="end" fill="#000" font-weight="normal">0</text>
<line x1="439.7" y1="418.25" x2="443.7" y2="418.25" stroke="#222" stroke-width="1.6"/>
<text x="436.20" y="421.55" font-size="9" text-anchor="end" fill="#000" font-weight="normal">20</text>
<line x1="439.7" y1="395.5" x2="443.7" y2="395.5" stroke="#222" stroke-width="1.6"/>
<text x="436.20" y="398.80" font-size="9" text-anchor="end" fill="#000" font-weight="normal">40</text>
<line x1="439.7" y1="372.75" x2="443.7" y2="372.75" stroke="#222" stroke-width="1.6"/>
<text x="436.20" y="376.05" font-size="9" text-anchor="end" fill="#000" font-weight="normal">60</text>
<line x1="439.7" y1="350.0" x2="443.7" y2="350.0" stroke="#222" stroke-width="1.6"/>
<text x="436.20" y="353.30" font-size="9" text-anchor="end" fill="#000" font-weight="normal">80</text>
<line x1="443.7" y1="577.5" x2="443.7" y2="581.5" stroke="#222" stroke-width="1"/>
<text transform="matrix(1 0 0 1.1 443.70 594.00)" font-size="9.1" text-anchor="middle" fill="#000" font-weight="normal">-150</text>
<line x1="490.24285714285713" y1="577.5" x2="490.24285714285713" y2="581.5" stroke="#222" stroke-width="1"/>
<text transform="matrix(1 0 0 1.1 490.24 594.00)" font-size="9.1" text-anchor="middle" fill="#000" font-weight="normal">-100</text>
<line x1="536.7857142857142" y1="577.5" x2="536.7857142857142" y2="581.5" stroke="#222" stroke-width="1"/>
<text transform="matrix(1 0 0 1.1 536.79 594.00)" font-size="9.1" text-anchor="middle" fill="#000" font-weight="normal">-50</text>
<line x1="583.3285714285714" y1="577.5" x2="583.3285714285714" y2="581.5" stroke="#222" stroke-width="1"/>
<text transform="matrix(1 0 0 1.1 583.33 594.00)" font-size="9.1" text-anchor="middle" fill="#000" font-weight="normal">0</text>
<line x1="629.8714285714286" y1="577.5" x2="629.8714285714286" y2="581.5" stroke="#222" stroke-width="1"/>
<text transform="matrix(1 0 0 1.1 629.87 594.00)" font-size="9.1" text-anchor="middle" fill="#000" font-weight="normal">50</text>
<line x1="676.4142857142857" y1="577.5" x2="676.4142857142857" y2="581.5" stroke="#222" stroke-width="1"/>
<text transform="matrix(1 0 0 1.1 676.41 594.00)" font-size="9.1" text-anchor="middle" fill="#000" font-weight="normal">100</text>
<line x1="722.9571428571428" y1="577.5" x2="722.9571428571428" y2="581.5" stroke="#222" stroke-width="1"/>
<text transform="matrix(1 0 0 1.1 722.96 594.00)" font-size="9.1" text-anchor="middle" fill="#000" font-weight="normal">150</text>
<line x1="769.5" y1="577.5" x2="769.5" y2="581.5" stroke="#222" stroke-width="1"/>
<text transform="matrix(1 0 0 1.1 769.50 594.00)" font-size="9.1" text-anchor="middle" fill="#000" font-weight="normal">200</text>
<line x1="440" y1="350" x2="769.5" y2="350" stroke="#777" stroke-width="2"/>
<line x1="443.7" y1="350" x2="443.7" y2="581.5" stroke="#333" stroke-width="1.3"/>
<line x1="440" y1="577.5" x2="770" y2="577.5" stroke="#000" stroke-width="1"/>
<line x1="769.5" y1="349" x2="769.5" y2="581.5" stroke="#000" stroke-width="1"/>
<line x1="584.5" y1="350" x2="584.5" y2="581.5" stroke="#000" stroke-width="1"/>
<line x1="443.5" y1="426.5" x2="769.5" y2="426.5" stroke="#000" stroke-width="1"/>
<text transform="matrix(0.88 0 0 1 546.95 372.99)" font-size="6.8" fill="#7a7a06" stroke="#7a7a06" stroke-width="0.15" text-anchor="middle">wk2</text>
<text transform="matrix(0.88 0 0 1 520.55 380.37)" font-size="6.8" fill="#7a7a06" stroke="#7a7a06" stroke-width="0.15" text-anchor="middle">wk2</text>
<text transform="matrix(0.88 0 0 1 562.15 383.87)" font-size="6.8" fill="#7a7a06" stroke="#7a7a06" stroke-width="0.15" text-anchor="middle">wk2</text>
<text transform="matrix(0.88 0 0 1 573.75 386.16)" font-size="6.8" fill="#7a7a06" stroke="#7a7a06" stroke-width="0.15" text-anchor="middle">wk2</text>
<text transform="matrix(0.88 0 0 1 577.33 391.75)" font-size="6.8" fill="#7a7a06" stroke="#7a7a06" stroke-width="0.15" text-anchor="middle">wk2</text>
<text transform="matrix(0.88 0 0 1 553.15 396.84)" font-size="6.8" fill="#7a7a06" stroke="#7a7a06" stroke-width="0.15" text-anchor="middle">wk2</text>
<text transform="matrix(0.88 0 0 1 507.75 403.82)" font-size="6.8" fill="#820882" stroke="#820882" stroke-width="0.15" text-anchor="middle">wk4</text>
<text transform="matrix(0.88 0 0 1 571.03 403.12)" font-size="6.8" fill="#7a7a06" stroke="#7a7a06" stroke-width="0.15" text-anchor="middle">wk2</text>
<text transform="matrix(0.88 0 0 1 565.33 405.32)" font-size="6.8" fill="#820882" stroke="#820882" stroke-width="0.15" text-anchor="middle">wk4</text>
<text transform="matrix(0.88 0 0 1 570.15 411.80)" font-size="6.8" fill="#7a7a06" stroke="#7a7a06" stroke-width="0.15" text-anchor="middle">wk2</text>
<text transform="matrix(0.88 0 0 1 568.05 411.50)" font-size="6.8" fill="#820882" stroke="#820882" stroke-width="0.15" text-anchor="middle">wk4</text>
<text transform="matrix(0.88 0 0 1 561.33 415.30)" font-size="6.8" fill="#820882" stroke="#820882" stroke-width="0.15" text-anchor="middle">wk4</text>
<text transform="matrix(0.88 0 0 1 562.75 416.79)" font-size="6.8" fill="#080884" stroke="#080884" stroke-width="0.15" text-anchor="middle">wk8</text>
<text transform="matrix(0.88 0 0 1 556.15 425.47)" font-size="6.8" fill="#820882" stroke="#820882" stroke-width="0.15" text-anchor="middle">wk4</text>
<text transform="matrix(0.88 0 0 1 566.45 425.37)" font-size="6.8" fill="#820882" stroke="#820882" stroke-width="0.15" text-anchor="middle">wk4</text>
<text transform="matrix(0.88 0 0 1 547.75 434.85)" font-size="6.8" fill="#820882" stroke="#820882" stroke-width="0.15" text-anchor="middle">wk4</text>
<text transform="matrix(0.88 0 0 1 530.95 440.34)" font-size="6.8" fill="#7a7a06" stroke="#7a7a06" stroke-width="0.15" text-anchor="middle">wk2</text>
<text transform="matrix(0.88 0 0 1 559.63 444.23)" font-size="6.8" fill="#080884" stroke="#080884" stroke-width="0.15" text-anchor="middle">wk8</text>
<text transform="matrix(0.88 0 0 1 552.55 449.52)" font-size="6.8" fill="#7a7a06" stroke="#7a7a06" stroke-width="0.15" text-anchor="middle">wk2</text>
<text transform="matrix(0.88 0 0 1 555.83 450.02)" font-size="6.8" fill="#7a7a06" stroke="#7a7a06" stroke-width="0.15" text-anchor="middle">wk2</text>
<text transform="matrix(0.88 0 0 1 526.55 453.61)" font-size="6.8" fill="#820882" stroke="#820882" stroke-width="0.15" text-anchor="middle">wk4</text>
<text transform="matrix(0.88 0 0 1 532.15 452.91)" font-size="6.8" fill="#7a7a06" stroke="#7a7a06" stroke-width="0.15" text-anchor="middle">wk2</text>
<text transform="matrix(0.88 0 0 1 544.05 457.80)" font-size="6.8" fill="#080884" stroke="#080884" stroke-width="0.15" text-anchor="middle">wk8</text>
<text transform="matrix(0.88 0 0 1 549.43 460.20)" font-size="6.8" fill="#820882" stroke="#820882" stroke-width="0.15" text-anchor="middle">wk4</text>
<text transform="matrix(0.88 0 0 1 551.65 464.09)" font-size="6.8" fill="#080884" stroke="#080884" stroke-width="0.15" text-anchor="middle">wk8</text>
<text transform="matrix(0.88 0 0 1 538.05 467.78)" font-size="6.8" fill="#820882" stroke="#820882" stroke-width="0.15" text-anchor="middle">wk4</text>
<text transform="matrix(0.88 0 0 1 551.65 470.67)" font-size="6.8" fill="#080884" stroke="#080884" stroke-width="0.15" text-anchor="middle">wk8</text>
<text transform="matrix(0.88 0 0 1 553.55 471.87)" font-size="6.8" fill="#820882" stroke="#820882" stroke-width="0.15" text-anchor="middle">wk4</text>
<text transform="matrix(0.88 0 0 1 548.83 482.75)" font-size="6.8" fill="#080884" stroke="#080884" stroke-width="0.15" text-anchor="middle">wk8</text>
<text transform="matrix(0.88 0 0 1 542.25 491.63)" font-size="6.8" fill="#080884" stroke="#080884" stroke-width="0.15" text-anchor="middle">wk8</text>
<text transform="matrix(0.88 0 0 1 485.35 498.91)" font-size="6.8" fill="#820882" stroke="#820882" stroke-width="0.15" text-anchor="middle">wk4</text>
<text transform="matrix(0.88 0 0 1 545.85 505.90)" font-size="6.8" fill="#080884" stroke="#080884" stroke-width="0.15" text-anchor="middle">wk8</text>
<text transform="matrix(0.88 0 0 1 537.15 517.47)" font-size="6.8" fill="#080884" stroke="#080884" stroke-width="0.15" text-anchor="middle">wk8</text>
<text transform="matrix(0.88 0 0 1 536.65 517.47)" font-size="6.8" fill="#080884" stroke="#080884" stroke-width="0.15" text-anchor="middle">wk8</text>
<text transform="matrix(0.88 0 0 1 529.05 561.18)" font-size="6.8" fill="#080884" stroke="#080884" stroke-width="0.15" text-anchor="middle">wk8</text>
<text transform="matrix(0.88 0 0 1 668.93 417.29)" font-size="6.8" fill="#108c10" stroke="#108c10" stroke-width="0.15" text-anchor="middle">wk0</text>
<text transform="matrix(0.88 0 0 1 685.25 417.69)" font-size="6.8" fill="#108c10" stroke="#108c10" stroke-width="0.15" text-anchor="middle">wk0</text>
<text transform="matrix(0.88 0 0 1 679.95 427.47)" font-size="6.8" fill="#108c10" stroke="#108c10" stroke-width="0.15" text-anchor="middle">wk0</text>
<text transform="matrix(0.88 0 0 1 688.75 429.86)" font-size="6.8" fill="#108c10" stroke="#108c10" stroke-width="0.15" text-anchor="middle">wk0</text>
<text transform="matrix(0.88 0 0 1 670.95 447.13)" font-size="6.8" fill="#108c10" stroke="#108c10" stroke-width="0.15" text-anchor="middle">wk0</text>
<text transform="matrix(0.88 0 0 1 658.33 462.79)" font-size="6.8" fill="#108c10" stroke="#108c10" stroke-width="0.15" text-anchor="middle">wk0</text>
<text transform="matrix(0.88 0 0 1 657.23 474.07)" font-size="6.8" fill="#108c10" stroke="#108c10" stroke-width="0.15" text-anchor="middle">wk0</text>
<text transform="matrix(0.88 0 0 1 663.65 482.75)" font-size="6.8" fill="#108c10" stroke="#108c10" stroke-width="0.15" text-anchor="middle">wk0</text>
<text transform="matrix(0.88 0 0 1 672.65 483.55)" font-size="6.8" fill="#108c10" stroke="#108c10" stroke-width="0.15" text-anchor="middle">wk0</text>
<text transform="matrix(0.88 0 0 1 742.25 465.79)" font-size="6.8" fill="#108c10" stroke="#108c10" stroke-width="0.15" text-anchor="middle">wk0</text>
<text transform="matrix(0.88 0 0 1 736.25 484.54)" font-size="6.8" fill="#108c10" stroke="#108c10" stroke-width="0.15" text-anchor="middle">wk0</text>
<text x="405.00" y="336.80" font-size="20" text-anchor="start" fill="#000" font-weight="bold">d</text>
<text x="608.80" y="343.50" font-size="12.5" text-anchor="middle" fill="#000" font-weight="normal">Scores</text>
<text x="606.80" y="614.50" font-size="10.8" text-anchor="middle" fill="#000" font-weight="normal">PC-1 (24%)</text>
<text x="407.70" y="463.50" font-size="10.8" text-anchor="middle" fill="#000" font-weight="normal" transform="rotate(-90 407.7 463.5)">PC-3 (7%)</text>
</svg>
</body></html>
